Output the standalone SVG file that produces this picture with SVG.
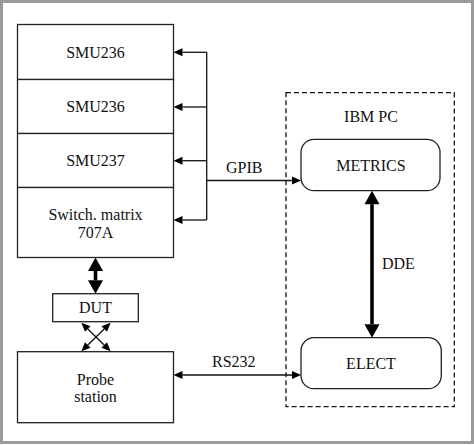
<svg xmlns="http://www.w3.org/2000/svg" width="474" height="445" viewBox="0 0 474 445">
<style>
.box{fill:#fff;stroke:#222;stroke-width:1.3}
.t{font-family:"Liberation Serif","Times New Roman",serif;font-size:16px;fill:#111}
.c{text-anchor:middle}
.ln{fill:none;stroke:#111;stroke-width:1.3}
.thick{fill:none;stroke:#000;stroke-width:3.6}
</style>
<defs>
<marker id="a" markerUnits="userSpaceOnUse" markerWidth="10" markerHeight="8" refX="0" refY="4" orient="auto-start-reverse" overflow="visible">
<path d="M0,0 L9,4 L0,8 z" fill="#000"/>
</marker>
<marker id="A" markerUnits="userSpaceOnUse" markerWidth="14" markerHeight="15" refX="0" refY="7.5" orient="auto-start-reverse" overflow="visible">
<path d="M0,0 L13.5,7.5 L0,15 z" fill="#000"/>
</marker>
</defs>
<rect x="1.5" y="1.5" width="471" height="441" fill="#fff" stroke="#9a9a9a" stroke-width="3"/>

<g id="smu1"><rect class="box" x="17.5" y="24.5" width="156" height="55"/><text class="t c" x="95.5" y="57.5">SMU236</text></g>
<g id="smu2"><rect class="box" x="17.5" y="79.5" width="156" height="54"/><text class="t c" x="95.5" y="112">SMU236</text></g>
<g id="smu3"><rect class="box" x="17.5" y="133.5" width="156" height="54"/><text class="t c" x="95.5" y="166">SMU237</text></g>
<g id="switch"><rect class="box" x="17.5" y="187.5" width="156" height="70"/><text class="t c" x="95.5" y="220">Switch. matrix</text><text class="t c" x="95.5" y="237.5">707A</text></g>
<g id="dut"><rect class="box" x="52.7" y="293.7" width="85.6" height="28"/><text class="t c" x="95.5" y="313">DUT</text></g>
<g id="probe"><rect class="box" x="17.5" y="351.7" width="156" height="71"/><text class="t c" x="95.5" y="385">Probe</text><text class="t c" x="95.5" y="401.7">station</text></g>
<g id="ibmpc"><rect x="286" y="92.7" width="168.3" height="314" fill="none" stroke="#111" stroke-width="1.3" stroke-dasharray="5,3"/><text class="t c" x="371" y="122">IBM PC</text></g>
<g id="metrics"><rect class="box" x="301" y="139.3" width="139" height="51.4" rx="13"/><text class="t c" x="371" y="171">METRICS</text></g>
<g id="elect"><rect class="box" x="301" y="337.7" width="140.3" height="51" rx="13"/><text class="t c" x="371" y="369">ELECT</text></g>

<g id="connectors">
<path class="ln" d="M206.7,52.3 V220"/>
<path class="ln" d="M206.7,52.3 H182.5" marker-end="url(#a)"/>
<path class="ln" d="M206.7,107 H182.5" marker-end="url(#a)"/>
<path class="ln" d="M206.7,160.7 H182.5" marker-end="url(#a)"/>
<path class="ln" d="M206.7,220 H182.5" marker-end="url(#a)"/>
<path class="ln" d="M206.7,180.5 H292" marker-end="url(#a)"/>
<text class="t" x="226" y="173">GPIB</text>
<path class="ln" d="M182.5,375 H292" marker-start="url(#a)" marker-end="url(#a)"/>
<text class="t" x="212" y="367">RS232</text>
<path class="thick" d="M95.5,271 V280.2" marker-start="url(#A)" marker-end="url(#A)"/>
<path class="thick" d="M372,204.2 V324.2" marker-start="url(#A)" marker-end="url(#A)"/>
<text class="t" x="382" y="269">DDE</text>
<path class="ln" d="M87.8,329 L104.2,345" marker-start="url(#a)" marker-end="url(#a)"/>
<path class="ln" d="M104.2,329 L87.8,345" marker-start="url(#a)" marker-end="url(#a)"/>
</g>
</svg>
